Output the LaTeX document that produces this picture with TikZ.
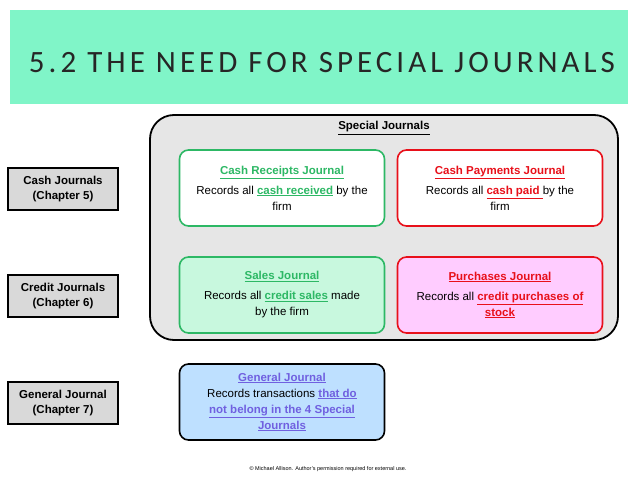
\documentclass[tikz,border=0pt]{standalone}
\usepackage{fontspec}
\setmainfont{Liberation Sans}
\newfontfamily\titlefont[LetterSpace=13]{Carlito}
\definecolor{aqua}{HTML}{80F5C8}
\definecolor{gjr}{HTML}{2DB865}
\definecolor{rj}{HTML}{E8101A}
\definecolor{pur}{HTML}{7060E0}
\definecolor{grayfill}{HTML}{E6E6E6}
\tikzset{
 jbox/.style={rounded corners=9pt,line width=1.6pt,minimum width=205pt,minimum height=76pt,align=center,font=\fontsize{11.5}{16}\selectfont},
 sbox/.style={draw=black,line width=1.6pt,fill=gray!30,minimum width=110pt,minimum height=42pt,align=center,font=\bfseries\fontsize{11.5}{15}\selectfont},
}
\newcommand{\hl}[2]{\textcolor{#1}{\bfseries\underline{#2}}}
\begin{document}
\begin{tikzpicture}[x=1pt,y=-1pt]
\useasboundingbox (0,0) rectangle (638,479);
\node[fill=aqua,minimum width=618pt,minimum height=94pt,inner sep=0] (title) at (319,57) {};
\node[font=\titlefont\fontsize{31}{31}\selectfont,text=black!85] (tt) at (322,63) {5.2 THE NEED FOR SPECIAL JOURNALS};
\draw[line width=1.8pt,fill=grayfill,rounded corners=24pt] (150,115) rectangle (618,340);
\node[font=\bfseries\fontsize{11.5}{12}\selectfont] (sj) at (384,128) {\underline{Special Journals}};
\node[jbox,draw=gjr,fill=white] (cr) at (282,188) {\hl{gjr}{Cash Receipts Journal}\\[4pt]Records all \hl{gjr}{cash received} by the\\firm};
\node[jbox,draw=rj,fill=white] (cp) at (500,188) {\hl{rj}{Cash Payments Journal}\\[4pt]Records all \hl{rj}{cash paid\ }by the\\firm};
\node[jbox,draw=gjr,fill={rgb,255:red,200;green,248;blue,222}] (sa) at (282,295) {\hl{gjr}{Sales Journal}\\[4pt]Records all \hl{gjr}{credit sales} made\\by the firm};
\node[jbox,draw=rj,fill={rgb,255:red,255;green,204;blue,255}] (pu) at (500,295) {\hl{rj}{Purchases Journal}\\[4pt]Records all \hl{rj}{credit purchases of}\\\hl{rj}{stock}};
\node[jbox,draw=black,fill={rgb,255:red,190;green,224;blue,255},font=\fontsize{11.5}{16}\selectfont] (gj) at (282,402) {\hl{pur}{General Journal}\\Records transactions \hl{pur}{that do}\\\hl{pur}{not belong in the 4 Special}\\\hl{pur}{Journals}};
\node[sbox] (c1) at (63,189) {Cash Journals\\(Chapter 5)};
\node[sbox] (c2) at (63,296) {Credit Journals\\(Chapter 6)};
\node[sbox] (c3) at (63,403) {General Journal\\(Chapter 7)};
\node[font=\fontsize{5.5}{6}\selectfont] (fn) at (328,469) {© Michael Allison. Author’s permission required for external use.};
\end{tikzpicture}
\end{document}
